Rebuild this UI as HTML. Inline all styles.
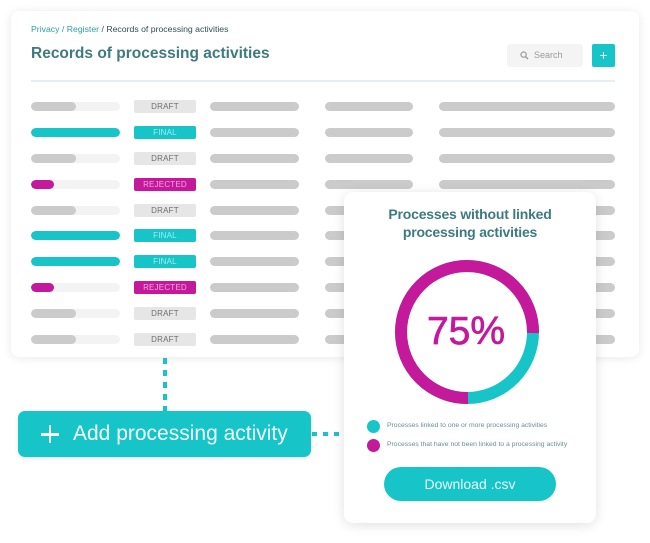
<!DOCTYPE html>
<html><head><meta charset="utf-8">
<style>
*{margin:0;padding:0;box-sizing:border-box}
body{width:650px;height:543px;background:#fff;position:relative;overflow:hidden;font-family:"Liberation Sans",sans-serif}
.abs{position:absolute}
.card{position:absolute;left:11px;top:11px;width:628px;height:346px;background:#fff;border-radius:8px;box-shadow:0 1px 10px rgba(0,0,0,0.09)}
.bc{left:31px;top:24px;font-size:8.7px;color:#2f4f52;white-space:nowrap}
.bc span{color:#2a9da1}
.title{left:31px;top:45px;font-size:15.5px;font-weight:bold;color:#3e7a7f;white-space:nowrap}
.search{left:507px;top:44px;width:76px;height:23px;background:#f4f4f4;border-radius:3px;font-size:9px;color:#9a9a9a}
.plus{left:592px;top:44px;width:23px;height:23px;background:#17c5c8;border-radius:2px;color:#fff;font-size:14px;text-align:center;line-height:22px}
.div{left:31px;top:80px;width:584px;height:2px;background:#e6eef3}
.trk{position:absolute;left:31px;width:89px;height:9px;border-radius:5px;background:#f3f3f3;overflow:hidden}
.trk i{position:absolute;left:0;top:0;height:9px;border-radius:5px}
.bar{position:absolute;height:9px;border-radius:5px;background:#cbcbcb}
.bdg{position:absolute;left:134px;width:62px;height:13px;border-radius:2px;font-size:8px;text-align:center;line-height:13px;letter-spacing:0.2px}
.d{background:#e6e6e6;color:#6f6f6f}
.f{background:#17c5c8;color:#9eeeef}
.r{background:#c4199b;color:#f3a6e0}
.pop{position:absolute;left:344px;top:192px;width:252px;height:331px;background:#fff;border-radius:9px;box-shadow:0 2px 12px rgba(0,0,0,0.12)}
.ptitle{position:absolute;left:344px;top:206px;width:252px;text-align:center;font-size:14px;font-weight:bold;color:#3e7a7f;line-height:17.5px;letter-spacing:-0.2px}
.leg{position:absolute;left:387px;font-size:6.8px;color:#6a8e92;white-space:nowrap}
.dot{position:absolute;left:367px;width:13px;height:13px;border-radius:50%}
.dl{position:absolute;left:384px;top:467px;width:172px;height:34px;border-radius:17px;background:#17c5c8;color:#eafbfb;font-size:14px;text-align:center;line-height:34px}
.add{position:absolute;left:18px;top:411px;width:293px;height:46px;border-radius:7px;background:#17c5c8;box-shadow:0 1px 5px rgba(0,0,0,0.12)}
.add .t{position:absolute;left:55px;top:0;line-height:46px;color:#f2fdfd;font-size:21px;white-space:nowrap}
.vdash{position:absolute;left:163px;top:358px;width:4px;height:53px;background:repeating-linear-gradient(to bottom,#17c5c8 0,#17c5c8 6px,transparent 6px,transparent 12px)}
.hdash{position:absolute;left:312px;top:432px;width:32px;height:4px;background:repeating-linear-gradient(to right,#17c5c8 0,#17c5c8 5px,transparent 5px,transparent 11px)}
</style></head><body>
<div class="card"></div>
<div class="abs bc"><span>Privacy / Register</span> / Records of processing activities</div>
<div class="abs title">Records of processing activities</div>
<div class="abs search">
  <svg class="abs" style="left:13px;top:7px" width="9" height="9" viewBox="0 0 9 9"><circle cx="3.6" cy="3.6" r="2.6" fill="none" stroke="#9a9a9a" stroke-width="1.2"/><line x1="5.6" y1="5.6" x2="8" y2="8" stroke="#9a9a9a" stroke-width="1.4"/></svg>
  <span class="abs" style="left:27px;top:6px">Search</span>
</div>
<div class="abs plus">+</div>
<div class="abs div"></div>

<!-- rows -->
<div class="trk" style="top:102px"><i style="width:45px;background:#cbcbcb"></i></div>
<div class="trk" style="top:128px"><i style="width:89px;background:#17c5c8"></i></div>
<div class="trk" style="top:154px"><i style="width:45px;background:#cbcbcb"></i></div>
<div class="trk" style="top:180px"><i style="width:23px;background:#c4199b"></i></div>
<div class="trk" style="top:206px"><i style="width:45px;background:#cbcbcb"></i></div>
<div class="trk" style="top:231px"><i style="width:89px;background:#17c5c8"></i></div>
<div class="trk" style="top:257px"><i style="width:89px;background:#17c5c8"></i></div>
<div class="trk" style="top:283px"><i style="width:23px;background:#c4199b"></i></div>
<div class="trk" style="top:309px"><i style="width:45px;background:#cbcbcb"></i></div>
<div class="trk" style="top:335px"><i style="width:45px;background:#cbcbcb"></i></div>

<div class="bdg d" style="top:100px">DRAFT</div>
<div class="bdg f" style="top:126px">FINAL</div>
<div class="bdg d" style="top:152px">DRAFT</div>
<div class="bdg r" style="top:178px">REJECTED</div>
<div class="bdg d" style="top:204px">DRAFT</div>
<div class="bdg f" style="top:229px">FINAL</div>
<div class="bdg f" style="top:255px">FINAL</div>
<div class="bdg r" style="top:281px">REJECTED</div>
<div class="bdg d" style="top:307px">DRAFT</div>
<div class="bdg d" style="top:333px">DRAFT</div>

<div class="bar" style="left:210px;width:89px;top:102px"></div>
<div class="bar" style="left:210px;width:89px;top:128px"></div>
<div class="bar" style="left:210px;width:89px;top:154px"></div>
<div class="bar" style="left:210px;width:89px;top:180px"></div>
<div class="bar" style="left:210px;width:89px;top:206px"></div>
<div class="bar" style="left:210px;width:89px;top:231px"></div>
<div class="bar" style="left:210px;width:89px;top:257px"></div>
<div class="bar" style="left:210px;width:89px;top:283px"></div>
<div class="bar" style="left:210px;width:89px;top:309px"></div>
<div class="bar" style="left:210px;width:89px;top:335px"></div>

<div class="bar" style="left:325px;width:88px;top:102px"></div>
<div class="bar" style="left:325px;width:88px;top:128px"></div>
<div class="bar" style="left:325px;width:88px;top:154px"></div>
<div class="bar" style="left:325px;width:88px;top:180px"></div>
<div class="bar" style="left:325px;width:88px;top:206px"></div>
<div class="bar" style="left:325px;width:88px;top:231px"></div>
<div class="bar" style="left:325px;width:88px;top:257px"></div>
<div class="bar" style="left:325px;width:88px;top:283px"></div>
<div class="bar" style="left:325px;width:88px;top:309px"></div>
<div class="bar" style="left:325px;width:88px;top:335px"></div>

<div class="bar" style="left:439px;width:176px;top:102px"></div>
<div class="bar" style="left:439px;width:176px;top:128px"></div>
<div class="bar" style="left:439px;width:176px;top:154px"></div>
<div class="bar" style="left:439px;width:176px;top:180px"></div>
<div class="bar" style="left:439px;width:176px;top:206px"></div>
<div class="bar" style="left:439px;width:176px;top:231px"></div>
<div class="bar" style="left:439px;width:176px;top:257px"></div>
<div class="bar" style="left:439px;width:176px;top:283px"></div>
<div class="bar" style="left:439px;width:176px;top:309px"></div>
<div class="bar" style="left:439px;width:176px;top:335px"></div>

<!-- connectors -->
<div class="vdash"></div>
<div class="hdash"></div>

<!-- add button -->
<div class="add">
  <div class="abs" style="left:23px;top:22px;width:18px;height:2.6px;background:#f2fdfd"></div>
  <div class="abs" style="left:30.7px;top:14px;width:2.6px;height:18px;background:#f2fdfd"></div>
  <div class="t">Add processing activity</div>
</div>

<!-- popup -->
<div class="pop"></div>
<div class="ptitle">Processes without linked<br>processing activities</div>
<svg class="abs" style="left:0;top:0" width="650" height="543">
  <circle cx="467" cy="332" r="66" fill="none" stroke="#17c5c8" stroke-width="12"/>
  <path d="M 468 398 A 66 66 0 1 1 533 333" fill="none" stroke="#c4199b" stroke-width="12"/>
  <text x="466" y="344" text-anchor="middle" font-family="Liberation Sans, sans-serif" font-size="39" fill="#c4199b" stroke="#c4199b" stroke-width="0.7">75%</text>
</svg>
<div class="dot" style="top:420px;background:#17c5c8"></div>
<div class="leg" style="top:422px">Processes linked to one or more processing activities</div>
<div class="dot" style="top:439px;background:#c4199b"></div>
<div class="leg" style="top:441px">Processes that have not been linked to a processing activity</div>
<div class="dl">Download .csv</div>
</body></html>
